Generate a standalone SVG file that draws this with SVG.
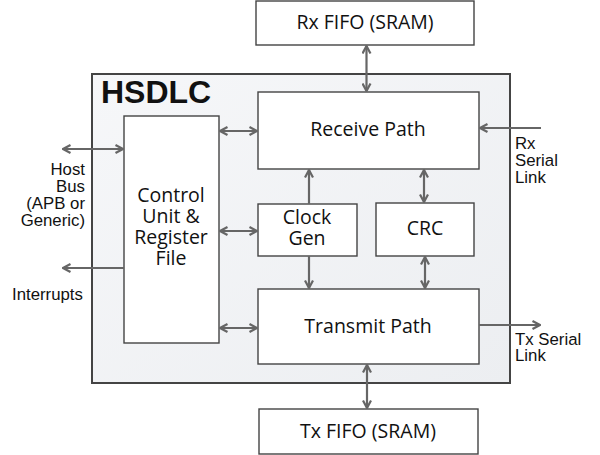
<svg xmlns="http://www.w3.org/2000/svg" width="600" height="455" viewBox="0 0 600 455">
<defs>
<linearGradient id="bg" x1="0" y1="0" x2="1" y2="1">
<stop offset="0" stop-color="#f6f7f9"/>
<stop offset="1" stop-color="#eceef1"/>
</linearGradient>
<marker id="ah" viewBox="0 0 10 10" refX="9" refY="5" markerWidth="10" markerHeight="10" markerUnits="userSpaceOnUse" orient="auto-start-reverse">
<path d="M1.5,1 L9,5 L1.5,9" fill="none" stroke="#666" stroke-width="2.2"/>
</marker>
</defs>
<style>
.box{fill:#fff;stroke:#444;stroke-width:1.4}
.lbl{font-family:"Open Sans","Noto Sans",sans-serif;font-size:19.5px;fill:#111;text-anchor:middle}
.ext{font-family:"Liberation Sans",Arial,sans-serif;font-size:16.8px;fill:#111}
.c{fill:none;stroke:#666;stroke-width:2.2}
</style>
<rect width="600" height="455" fill="#fff"/>
<g id="hsdlc">
<rect x="92" y="74" width="418" height="309" fill="url(#bg)" stroke="#444" stroke-width="2"/>
<text x="101" y="103" font-family="'Liberation Sans',Arial,sans-serif" font-weight="bold" font-size="32" fill="#111">HSDLC</text>
</g>
<g id="rxfifo">
<rect class="box" x="256" y="1" width="218" height="44"/>
<text class="lbl" x="365" y="29">Rx FIFO (SRAM)</text>
</g>
<g id="receive">
<rect class="box" x="258" y="92" width="221" height="77"/>
<text class="lbl" x="368" y="136">Receive Path</text>
</g>
<g id="control">
<rect class="box" x="124" y="116" width="95" height="227"/>
<text class="lbl" x="171" y="202">Control<tspan x="171" dy="21">Unit &amp;</tspan><tspan x="171" dy="21">Register</tspan><tspan x="171" dy="21">File</tspan></text>
</g>
<g id="clockgen">
<rect class="box" x="258" y="204" width="99" height="52"/>
<text class="lbl" x="307" y="224">Clock<tspan x="307" dy="21">Gen</tspan></text>
</g>
<g id="crc">
<rect class="box" x="376" y="203" width="98" height="53"/>
<text class="lbl" x="425" y="235">CRC</text>
</g>
<g id="transmit">
<rect class="box" x="258" y="289" width="221" height="75"/>
<text class="lbl" x="368" y="333">Transmit Path</text>
</g>
<g id="txfifo">
<rect class="box" x="259" y="409" width="219" height="45"/>
<text class="lbl" x="368" y="438">Tx FIFO (SRAM)</text>
</g>
<g id="labels">
<text class="ext" x="85" y="175" text-anchor="end">Host<tspan x="85" dy="17">Bus</tspan><tspan x="85" dy="17">(APB or</tspan><tspan x="85" dy="17">Generic)</tspan></text>
<text class="ext" x="12" y="300">Interrupts</text>
<text class="ext" x="515" y="149">Rx<tspan x="515" dy="17">Serial</tspan><tspan x="515" dy="17">Link</tspan></text>
<text class="ext" x="515" y="345">Tx Serial<tspan x="515" dy="16">Link</tspan></text>
</g>
<g id="connectors">
<line class="c" x1="366.5" y1="46" x2="366.5" y2="91" marker-start="url(#ah)" marker-end="url(#ah)"/>
<line class="c" x1="63" y1="149" x2="123" y2="149" marker-start="url(#ah)" marker-end="url(#ah)"/>
<line class="c" x1="124" y1="268" x2="63" y2="268" marker-end="url(#ah)"/>
<line class="c" x1="220" y1="131" x2="257" y2="131" marker-start="url(#ah)" marker-end="url(#ah)"/>
<line class="c" x1="220" y1="231" x2="257" y2="231" marker-start="url(#ah)" marker-end="url(#ah)"/>
<line class="c" x1="220" y1="328" x2="257" y2="328" marker-start="url(#ah)" marker-end="url(#ah)"/>
<line class="c" x1="541" y1="128" x2="480" y2="128" marker-end="url(#ah)"/>
<line class="c" x1="309" y1="204" x2="309" y2="170" marker-end="url(#ah)"/>
<line class="c" x1="424" y1="170" x2="424" y2="202" marker-start="url(#ah)" marker-end="url(#ah)"/>
<line class="c" x1="309" y1="256" x2="309" y2="288" marker-end="url(#ah)"/>
<line class="c" x1="425" y1="257" x2="425" y2="288" marker-start="url(#ah)" marker-end="url(#ah)"/>
<line class="c" x1="479" y1="325" x2="540" y2="325" marker-end="url(#ah)"/>
<line class="c" x1="367" y1="365" x2="367" y2="408" marker-start="url(#ah)" marker-end="url(#ah)"/>
</g>
</svg>
